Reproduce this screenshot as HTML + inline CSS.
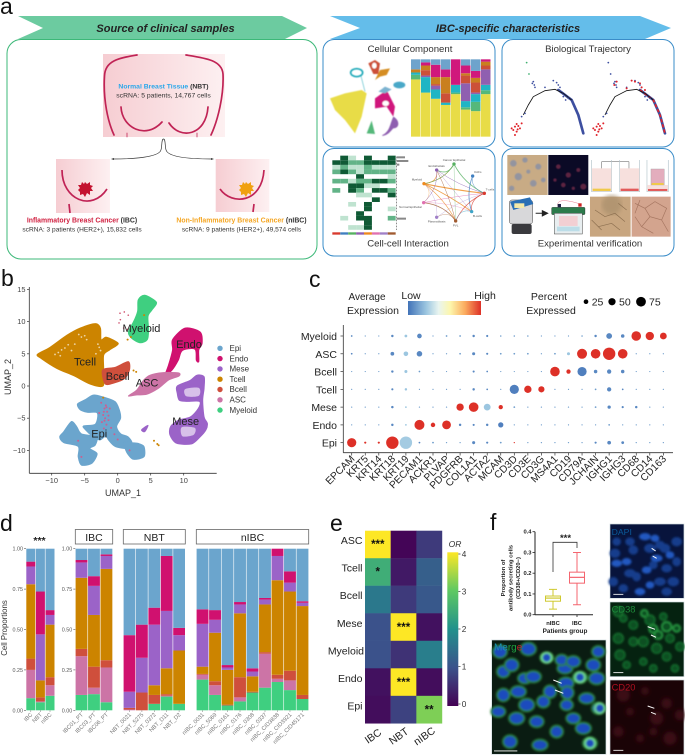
<!DOCTYPE html>
<html lang="en">
<head>
<meta charset="utf-8">
<title>IBC single-cell figure</title>
<style>
html,body{margin:0;padding:0;background:#fff;width:685px;height:755px;overflow:hidden}
svg{display:block;font-family:"Liberation Sans",sans-serif}
</style>
</head>
<body>
<svg id="fig" width="685" height="755" viewBox="0 0 685 755" xmlns="http://www.w3.org/2000/svg">
<defs>
<filter id="soft" x="-5%" y="-5%" width="110%" height="110%"><feGaussianBlur stdDeviation="1.2"/></filter>
<filter id="microblur" x="-5%" y="-5%" width="110%" height="110%"><feGaussianBlur stdDeviation="3"/></filter>
<filter id="cellblur" x="-5%" y="-5%" width="110%" height="110%"><feGaussianBlur stdDeviation="6"/></filter>
<linearGradient id="pink1" x1="0" y1="0" x2="1" y2="0"><stop offset="0" stop-color="#f6cdd2"/><stop offset="1" stop-color="#fdf0f1"/></linearGradient>
<linearGradient id="expr-grad" x1="0" y1="0" x2="1" y2="0">
<stop offset="0" stop-color="#4273b8"/><stop offset=".25" stop-color="#9cc6e0"/><stop offset=".42" stop-color="#e9f5f0"/><stop offset=".58" stop-color="#fdf6ac"/><stop offset=".78" stop-color="#fbac5f"/><stop offset="1" stop-color="#dd3027"/>
</linearGradient>
<linearGradient id="vir-grad" x1="0" y1="1" x2="0" y2="0">
<stop offset="0" stop-color="#440154"/><stop offset=".25" stop-color="#3b528b"/><stop offset=".5" stop-color="#21918c"/><stop offset=".75" stop-color="#5ec962"/><stop offset="1" stop-color="#fde725"/>
</linearGradient>
</defs>

<g id="panel-letters" font-size="23" fill="#111">
<text x="0" y="14">a</text>
<text x="1" y="286">b</text>
<text x="309" y="287">c</text>
<text x="0" y="531">d</text>
<text x="330" y="531">e</text>
<text x="490" y="530">f</text>
</g>

<!-- PANEL A LEFT -->
<g id="panel-a-left">
<polygon points="18,16 282,16 307,28 285,39 18,39 43,28" fill="#6ccba0"/>
<text x="165.5" y="32" text-anchor="middle" font-size="11" font-weight="bold" font-style="italic" fill="#222">Source of clinical samples</text>
<rect x="7" y="39.5" width="310" height="219.5" rx="14" fill="#fff" stroke="#3cb878" stroke-width="1"/>
<rect x="103" y="54" width="122" height="83" fill="url(#pink1)"/>
<g fill="none" stroke="#c02355" stroke-width="1.7" stroke-linecap="round">
<path d="M137,55 C120,58 105,60 104.5,76 C103,100 108,122 114,135"/>
<path d="M186,55 C205,58 222,60 223,74 C224,95 218,120 211,135"/>
<path d="M121,107 C122,128 146,140 162,122"/>
<path d="M169,123 C180,140 206,136 208,107"/>
<path d="M127,133 V137 M197,133 V137" stroke-width="0.8"/>
</g>
<text x="163.5" y="88.5" text-anchor="middle" font-size="6.8" font-weight="bold"><tspan fill="#29a7ea">Normal Breast Tissue</tspan><tspan fill="#333"> (NBT)</tspan></text>
<text x="163.5" y="97.5" text-anchor="middle" font-size="6.8" fill="#333">scRNA: 5 patients, 14,767 cells</text>
<path d="M113,159 C135,159 157,157 160.5,151 C162.5,148 161,139 163.5,139 C166,139 164.5,148 166.5,151 C170,157 190,159 212,159" fill="none" stroke="#333" stroke-width="0.7"/>
<rect x="56" y="159" width="54" height="54" fill="url(#pink1)"/>
<path d="M62,170 C62,200 92,212 107,189 M69,204 L70,213" fill="none" stroke="#c02355" stroke-width="1.7"/>
<polygon points="85,182 87,184 90,182 90,185 93,186 91,188 93,191 90,191 90,195 87,193 85,197 83,194 80,195 80,192 78,190 80,188 78,185 81,185 82,182 84,184" fill="#c4122f"/>
<rect x="215.7" y="159" width="53.6" height="53" fill="url(#pink1)"/>
<path d="M220,189 C232,206 262,203 264,170 M254,204 L253,212" fill="none" stroke="#c02355" stroke-width="1.7"/>
<polygon points="246,182 248,184 251,182 251,185 254,186 252,188 254,191 251,191 251,195 248,193 246,197 244,194 241,195 241,192 239,190 241,188 239,185 242,185 243,182 245,184" fill="#f0a010"/>
<path d="M111,159 L114,158 L114,160 Z M214,159 L211,158 L211,160 Z" fill="#333"/>
<text x="82" y="222.5" text-anchor="middle" font-size="6.9" font-weight="bold"><tspan fill="#d02040">Inflammatory Breast Cancer</tspan><tspan fill="#333"> (IBC)</tspan></text>
<text x="82" y="231.5" text-anchor="middle" font-size="6.6" fill="#333">scRNA: 3 patients (HER2+), 15,832 cells</text>
<text x="241.5" y="222.5" text-anchor="middle" font-size="6.9" font-weight="bold"><tspan fill="#f5a623">Non-Inflammatory Breast Cancer</tspan><tspan fill="#333"> (nIBC)</tspan></text>
<text x="241.5" y="231.5" text-anchor="middle" font-size="6.6" fill="#333">scRNA: 9 patients (HER2+), 49,574 cells</text>
</g>

<!-- PANEL A RIGHT -->
<g id="panel-a-right">
<polygon points="330,16 640,16 671,28 645,39 330,39 360,28" fill="#64bdea"/>
<text x="508" y="32" text-anchor="middle" font-size="11" font-weight="bold" font-style="italic" fill="#222">IBC-specific characteristics</text>
<rect x="323" y="39.5" width="172" height="107.5" rx="11" fill="#fff" stroke="#3a8cc8"/>
<rect x="502" y="39.5" width="172" height="107.5" rx="11" fill="#fff" stroke="#3a8cc8"/>
<rect x="323" y="148.5" width="172" height="107.5" rx="11" fill="#fff" stroke="#3a8cc8"/>
<rect x="502" y="148.5" width="172" height="107.5" rx="11" fill="#fff" stroke="#3a8cc8"/>
<text x="410" y="52" text-anchor="middle" font-size="9.6" fill="#333">Cellular Component</text>
<text x="588" y="52" text-anchor="middle" font-size="9.6" fill="#333">Biological Trajectory</text>
<text x="408" y="246.5" text-anchor="middle" font-size="9.6" fill="#333">Cell-cell Interaction</text>
<text x="590" y="246.5" text-anchor="middle" font-size="9.6" fill="#333">Experimental verification</text>

<g transform="translate(325,0) scale(0.3333)">
<g filter="url(#soft)">
<polygon points="15,295 60,280 110,270 125,280 110,350 90,400 60,360 30,330" fill="#e8dc47"/>
<ellipse cx="95" cy="218" rx="18" ry="12" fill="none" stroke="#1fa8b8" stroke-width="5"/>
<path d="M108,228 L120,275" stroke="#1fa8b8" stroke-width="1.5" fill="none"/>
<polygon points="130,190 150,180 165,190 160,222 145,222" fill="#cc5038"/>
<ellipse cx="148" cy="197" rx="7" ry="9" fill="#fff"/>
<polygon points="150,240 165,210 195,205 185,225 165,230" fill="#d58d20"/>
<ellipse cx="223" cy="255" rx="18" ry="10" fill="#4aa8c8"/>
<polygon points="150,295 185,270 210,320 205,350 185,320 150,325" fill="#d0187c"/>
<ellipse cx="182" cy="310" rx="10" ry="8" fill="#fff"/>
<polygon points="160,275 180,260 200,268 180,280" fill="#7db3d0"/>
<polygon points="125,400 140,362 150,402" fill="#55b87a"/>
<path d="M172,405 C195,395 195,370 205,350 C225,360 225,385 205,385 C195,395 190,405 172,408 Z" fill="#8f5fb0"/>
</g>
<g id="mini-bars"></g>
<g id="mini-traj"></g>
<g id="mini-heat"></g>
<g id="mini-net"></g>
<g>
<rect x="547" y="465" width="121" height="120" fill="#c8ab85"/>
<g fill="#7e8bab" opacity=".7" filter="url(#soft)">
<circle cx="565" cy="490" r="10"/><circle cx="600" cy="480" r="8"/><circle cx="640" cy="500" r="9"/><circle cx="580" cy="530" r="11"/><circle cx="625" cy="550" r="10"/><circle cx="655" cy="540" r="7"/><circle cx="560" cy="565" r="8"/><circle cx="610" cy="515" r="6"/>
</g>
<rect x="670" y="465" width="120" height="120" fill="#0b0a26"/>
<g fill="#8a3050" opacity=".65" filter="url(#soft)">
<circle cx="700" cy="500" r="7"/><circle cx="730" cy="525" r="8"/><circle cx="760" cy="510" r="6"/><circle cx="715" cy="555" r="7"/><circle cx="775" cy="560" r="9"/><circle cx="690" cy="540" r="5"/><circle cx="745" cy="565" r="5"/>
</g>
<rect x="795" y="590" width="122" height="120" fill="#c8a680"/>
<circle cx="860" cy="615" r="30" fill="#a98f6c" opacity=".7" filter="url(#cellblur)"/>
<path d="M810,630 L840,650 L870,640 L900,665 M820,680 L860,670 L885,690 M800,660 L830,690 M880,610 L905,630" stroke="#8d7050" stroke-width="2" fill="none"/>
<rect x="920" y="590" width="117" height="120" fill="#d3a48e"/>
<path d="M930,610 L960,625 L990,605 L1025,625 L1010,660 L975,650 L950,680 L985,700 M960,625 L975,650 M1010,660 L1030,695 M930,650 L950,680 M945,600 L930,640" stroke="#a57560" stroke-width="2" fill="none"/>
<g>
<path d="M830,548 V485 H912 V525 M912,525 l-3,-6 h6 z" stroke="#555" stroke-width="1.5" fill="none"/>
<path d="M800,480 V575 H860 V480 M884,480 V575 H944 V480 M966,480 V575 H1030 V480" stroke="#b5c5cc" stroke-width="2" fill="none"/>
<rect x="801" y="505" width="58" height="69" fill="#f7e0dd"/><rect x="885" y="505" width="58" height="69" fill="#f7e0dd"/><rect x="967" y="555" width="62" height="19" fill="#f7e0dd"/>
<rect x="978" y="507" width="40" height="48" fill="#e3adbd" stroke="#999"/>
<rect x="803" y="566" width="54" height="7" fill="#f0c94a"/><rect x="887" y="566" width="54" height="7" fill="#e25a5a"/><rect x="969" y="567" width="58" height="6" fill="#e25a5a"/><rect x="980" y="549" width="36" height="6" fill="#f0c94a"/>
</g>
<g>
<rect x="553" y="600" width="70" height="72" rx="8" fill="#d8d8da" stroke="#444" stroke-width="1.5"/>
<polygon points="555,605 615,592 625,612 565,630" fill="#2a6fb5"/>
<rect x="568" y="610" width="30" height="14" fill="#f5e9a8"/>
<rect x="560" y="672" width="60" height="30" rx="6" fill="#3a3a3e"/>
<path d="M632,640 H660 M652,632 L668,640 L652,648 Z" stroke="#222" stroke-width="3" fill="#222"/>
<rect x="680" y="622" width="100" height="22" rx="3" fill="#2b7a4b" stroke="#111"/>
<rect x="688" y="640" width="84" height="62" fill="#e8eef0" stroke="#444" stroke-width="1.5"/>
<rect x="702" y="648" width="56" height="30" fill="#f2cfd3"/>
<rect x="696" y="680" width="68" height="14" fill="#bcdde8"/>
<path d="M700,620 C690,595 730,600 765,612" stroke="#d35" fill="none"/>
<rect x="698" y="612" width="10" height="10" fill="#224"/><rect x="760" y="610" width="10" height="10" fill="#c22"/>
</g>
</g>
</g>
</g>

<!-- PANEL B -->
<g id="umap"></g>
<!-- PANEL C -->
<g id="dotplot">
<text x="367" y="300" text-anchor="middle" font-size="10" fill="#222">Average</text>
<text x="373" y="314" text-anchor="middle" font-size="10.5" fill="#222">Expression</text>
<text x="411" y="299" text-anchor="middle" font-size="10.5" fill="#222">Low</text>
<text x="485" y="299" text-anchor="middle" font-size="10.5" fill="#222">High</text>
<rect x="408" y="301" width="73" height="14" fill="url(#expr-grad)"/>
<text x="549" y="300" text-anchor="middle" font-size="10.5" fill="#222">Percent</text>
<text x="551" y="314" text-anchor="middle" font-size="10.5" fill="#222">Expressed</text>
</g>
<!-- PANEL D -->
<g id="props">
<text transform="translate(7,628) rotate(-90)" text-anchor="middle" font-size="7.8" fill="#333">Cell Proportions</text>
<text x="39.5" y="544" text-anchor="middle" font-size="10.5" font-weight="bold" fill="#222">***</text>
</g>
<!-- PANEL E -->
<g id="oddsmap">
<text x="455" y="547" text-anchor="middle" font-size="8.5" font-style="italic" fill="#333">OR</text>
<rect x="447.3" y="552.3" width="11" height="153.7" fill="url(#vir-grad)"/>
</g>
<!-- PANEL F -->
<g id="boxes" font-weight="bold">
<text transform="translate(505,578) rotate(-90)" text-anchor="middle" font-size="5.8" fill="#222">Proportion of</text>
<text transform="translate(512.5,578) rotate(-90)" text-anchor="middle" font-size="5.8" fill="#222">antibody secreting cells</text>
<text transform="translate(520,578) rotate(-90)" text-anchor="middle" font-size="5.8" fill="#222">(CD38+/CD20−)</text>
<text x="565" y="633" text-anchor="middle" font-size="6.4" fill="#222">Patients group</text>
<text x="565.5" y="541" text-anchor="middle" font-size="9.5" fill="#222">***</text>
</g>
<g id="micro"></g>
</svg>

<script>
/* ---------- panel b data (UMAP coordinates) ---------- */
const umapXTicks = [-10, -5, 0, 5, 10];
const umapYTicks = [-10, -5, 0, 5, 10, 15];
const clusterNames = ['Epi', 'Endo', 'Mese', 'Tcell', 'Bcell', 'ASC', 'Myeloid'];
const clusterColors = ['#6ba5cd', '#d0116f', '#9b63c8', '#cc8400', '#cf4f3c', '#cc74a6', '#3fcf80'];
const tcellOutline = [[-12.2,4.9],[-10.3,6],[-7.7,7.9],[-5.7,9],[-3.4,9.7],[-2.6,9],[-2.5,7.2],[-1.7,7.6],[0.1,6.6],[-1.2,5.6],[-2.1,4.8],[-2.1,2.5],[-2.2,0],[-4.2,0.3],[-6.7,1.6],[-9.2,2.7],[-11.5,4.2]];
const bcellOutline = [[-2.3,2.5],[-0.4,2.9],[1.6,3.8],[1.8,2.5],[1.1,1.2],[-0.4,0.5],[-1.9,0.3]];
const ascOutline = [[1.6,-1.55],[2.9,-0.6],[3.9,0.9],[4.9,1.7],[6.9,2.1],[9.2,2.05],[9.3,1.55],[7.7,0.9],[6.2,-0.35],[4.4,-1.3],[2.9,-1.4]];
const endoOutline = [[8.3,7.2],[10.2,9],[12.5,8.4],[12.8,6.6],[12.3,5.6],[12.3,3.8],[11.9,4],[11.7,5.7],[9.8,5.5],[9.2,4],[8.2,2.4],[7.2,1.7],[7.7,3.3],[8.3,5.6]];
const meseOutline = [[9,0],[11,0.9],[12,1.7],[13.1,1.45],[13.1,-0.35],[12.9,-2.2],[13.1,-4.8],[13.6,-5.8],[13.4,-6.8],[12.5,-7.9],[11.2,-9],[8.9,-8.9],[7.9,-7.6],[8,-6.3],[9.2,-5.3],[11,-4.8],[12.2,-3.5],[12.4,-2.4],[10.4,-2.4],[9.3,-2.2],[9,-1.1]];
const myeloidOutline = [[3.1,13.4],[4.1,14.1],[5.9,13],[5.2,11.8],[4.6,10.8],[4.7,8.7],[4.5,7.2],[3.4,6.7],[2.1,7.4],[1.6,8.4],[2.4,10],[3,11.6]];
const epiUpper = [[-6.1,-2.8],[-4.9,-2.1],[-3.7,-1.4],[-2.2,-1.7],[-0.4,-2.4],[0.25,-3.7],[0.45,-5],[-0.15,-6.3],[0.45,-7.4],[1.6,-7.9],[2.2,-8.9],[1.4,-9.7],[-0.4,-9.4],[-1.4,-8.4],[-1.8,-7.8],[-2.7,-8.4],[-3.7,-7.9],[-4.9,-6.8],[-5.2,-6.2],[-3.4,-5.9],[-3.1,-4.2],[-4.6,-4.1],[-5.7,-3.7]];
const epiLeft = [[-8.8,-7.9],[-8.2,-7.1],[-7,-5.5],[-6.2,-6.3],[-5.5,-7.4],[-3.2,-7.9],[-3.4,-9.2],[-4.2,-9.7],[-3.1,-10.5],[-3.9,-12],[-5.5,-12.3],[-6,-11],[-6,-9.4],[-8.2,-8.8]];
const epiRight = [[0.9,-8.7],[2.1,-8.8],[3.1,-8.9],[4,-9.4],[4,-11],[2.4,-11.4],[1.6,-10.7],[1.1,-9.7]];
const epiSmall = [[3.6,-6.8],[4.6,-6.1],[4.1,-7.1]];
const meseHoles = [[[9.7,-6.4],[11.7,-6.5],[11.5,-7.6],[9.8,-7.8]],[[10.2,-0.5],[12.3,-0.3],[12.3,-1.5],[10.4,-1.6]]];
const tcellSpeckles = [[-9,5.2],[-8.5,5.6],[-8,5.9],[-9.5,4.9],[-8.7,4.7],[-7.5,6.4],[-5.5,7.6],[-5,7.8],[-4.7,7.2],[-5.9,8],[-3,6.5],[-2.8,6],[-2.6,5.5],[-3.3,5],[-6.5,6.5],[-7,5.5]];
const ascInEpi = [[-1.8,-3],[-2,-3.5],[-1.6,-4],[-2.2,-4.5],[-1.9,-5],[-1.4,-5.3],[-2.4,-5.6],[-1.7,-6],[-1,-6.5],[-0.5,-7.5],[0,-8.3],[-2.8,-4.2],[-1.2,-3.5],[-2.1,-6.6],[-6,-8.5],[1.8,-10],[-5.5,-11],[-2.5,-2.6],[-1.7,-3.3],[-2.1,-4],[-1.4,-4.6],[-2,-5.4]];
const tcellStray = [[2.4,2.4],[2.8,2.2],[5.5,-8.5],[6,-9],[6.2,-9.2],[1.5,7.2],[2,7.6],[4,11],[-2.2,-1.8]];
const endoStray = [[0.35,11.3],[1,11.5],[1.6,11],[0.4,10.3],[0.2,9.8],[0.9,9],[1.5,8.8]];
const umapLabels = ['Epi', 'Endo', 'Mese', 'Tcell', 'Bcell', 'ASC', 'Myeloid'];
const umapLabelX = [-2.8, 10.8, 10.3, -4.95, 0, 4.45, 3.6];
const umapLabelY = [-7.4, 6.5, -5.5, 3.8, 1.55, 0.5, 9];

/* ---------- panel c data ---------- */
const genes = ['EPCAM','KRT5','KRT14','KRT18','KRT19','PECAM1','ACKR1','PLVAP','PDGFRB','COL1A1','ACTA2','MCAM','CD3D','CD3E','CD3G','MS4A1','CD19','CD79A','JCHAIN','IGHG1','IGHG3','CD68','CD14','CD163'];
const dotRows = ['Myeloid','ASC','Bcell','Tcell','Mese','Endo','Epi'];
const pctMyeloid = [2,1,1,4,5,14,1,2,2,4,3,1.5,1.5,1.5,1,1,1,1.5,4,22,8,60,45,30];
const pctAsc = [2,1,1,9,14,20,1,1,2,6,3,2,2,2,1,2,6,65,60,100,60,1,1,1];
const pctBcell = [1,1,1,4,6,2,1,1,1,3,2,1,1,1,1,60,12,55,8,12,8,1,1,1];
const pctTcell = [1,1,1,3,4,1,1,1,1,4,2,1,55,35,25,1,1,1,2,12,2,1,1,1];
const pctMese = [1,1,1,4,2,1,1,1,35,60,30,12,2,1,1,1,1,1,2,7,3,4,1,1];
const pctEndo = [1,1,1,4,2,65,13,50,4,3,4,18,1,1,1,1,1,1,1,2,1,1,1,1];
const pctEpi = [55,3,3,100,100,2,2,1,1,6,3,2,1,1,1,1,1,1,3,9,5,1,1,1];
const exprMyeloid = [.05,.1,.1,.05,.2,.05,.1,.1,.1,.05,.05,.1,.1,.1,.1,.1,.1,.1,.05,.05,.05,1,1,1];
const exprAsc = [.05,.1,.1,.05,.2,.05,.1,.1,.1,.05,.05,.1,.1,.1,.1,.1,.2,1,1,1,1,.1,.1,.1];
const exprBcell = [.1,.1,.1,.05,.2,.1,.1,.1,.1,.05,.05,.1,.1,.1,.1,1,1,.03,.05,.05,.05,.1,.1,.1];
const exprTcell = [.1,.1,.1,.05,.2,.1,.1,.1,.1,.05,.05,.1,.03,1,1,.1,.1,.1,.1,.05,.05,.1,.1,.1];
const exprMese = [.1,.1,.1,.05,.2,.1,.1,.1,1,1,.2,1,.1,.1,.1,.1,.1,.1,.1,.05,.05,.05,.1,.1];
const exprEndo = [.1,.1,.1,.05,.2,1,1,1,.05,.05,.05,.03,.1,.1,.1,.1,.1,.1,.1,.1,.1,.1,.1,.1];
const exprEpi = [1,1,1,1,.22,.05,.1,.1,.1,.05,.05,.1,1,.1,.1,.1,.1,.1,.05,.05,.05,.1,.1,.1];
const pctMatrix = [pctMyeloid, pctAsc, pctBcell, pctTcell, pctMese, pctEndo, pctEpi];
const exprMatrix = [exprMyeloid, exprAsc, exprBcell, exprTcell, exprMese, exprEndo, exprEpi];
const sizeLegendPct = [14, 34, 62];
const sizeLegendText = ['25', '50', '75'];

/* ---------- panel d data: order Myeloid, ASC, Bcell, Tcell, Mese, Endo, Epi ---------- */
const stackColors = ['#3fcf80', '#cc74a6', '#cf4f3c', '#cc8400', '#9b63c8', '#d0116f', '#6ba5cd'];
const yPropTicks = [0, 0.25, 0.5, 0.75, 1];
const groupLabels = ['IBC', 'NBT', 'nIBC'];
const groupValues = [
  [.075,.175,.07,.46,.11,.03,.08],
  [.05,.005,.025,.105,.285,.265,.265],
  [.09,.065,.05,.325,.06,.03,.38]
];
const ibcLabels = ['IBC01_PT', 'IBC03_PT', 'IBC06_PT'];
const ibcValues = [
  [.095,.24,.045,.44,.095,.015,.07],
  [.10,.04,.13,.32,.18,.06,.17],
  [.05,.215,.045,.565,.08,.01,.035]
];
const nbtLabels = ['NBT_0021', 'NBT_5275', 'NBT_0372', 'NBT_D11', 'NBT_D2'];
const nbtValues = [
  [0,.005,.01,0,.10,.35,.535],
  [0,0,.11,0,.215,.205,.47],
  [.04,0,.055,.06,.375,.105,.365],
  [.085,.005,.01,.16,.355,.34,.045],
  [.04,0,0,.33,.095,.045,.49]
];
const nibcLabels = ['nIBC_0031','nIBC_5069','nIBC_0161','nIBC_0176','nIBC_0308','nIBC_0337','nIBC_CID3838','nIBC_CID3921','nIBC_CID45171'];
const nibcValues = [
  [.19,.03,.005,.045,.265,.09,.375],
  [.095,.06,.025,.30,.08,.06,.38],
  [.03,0,.005,.215,.015,.015,.72],
  [.055,.025,.125,.395,.055,.015,.33],
  [.11,0,.005,.095,.03,.02,.74],
  [.14,.21,.01,.295,.03,.01,.305],
  [.175,.02,.025,.585,.15,.045,0],
  [.125,.06,.06,.49,.055,.07,.14],
  [.07,0,.025,.55,.02,.01,.325]
];
const stripTitles = ['IBC', 'NBT', 'nIBC'];

/* ---------- panel e data ---------- */
const orRows = ['ASC','Tcell','Bcell','Mese','Myeloid','Endo','Epi'];
const orCols = ['IBC','NBT','nIBC'];
const orValues = [
  [4,0.05,0.7],
  [2.5,0.3,1.2],
  [1.6,0.7,1.1],
  [1.0,4,0.2],
  [1.0,0.6,1.7],
  [0.2,4,0.15],
  [0.15,0.8,3.2]
];
const orStars = [
  ['***','',''],
  ['*','',''],
  ['','',''],
  ['','***',''],
  ['','',''],
  ['','***',''],
  ['','','**']
];
const orTicks = [0,1,2,3,4];

/* ---------- panel f data ---------- */
const boxGroups = ['nIBC','IBC'];
const boxMin = [.027,.048];
const boxQ1 = [.065,.152];
const boxMedian = [.08,.18];
const boxQ3 = [.09,.205];
const boxMax = [.122,.30];
const boxColors = ['#cfc92f','#f4656f'];
const boxTicks = [0,.1,.2,.3,.4];

/* ---------- mini illustration data ---------- */
const miniColors = ['#e8dc47','#55b87a','#1fb5c4','#8f5fb0','#cc5038','#c97f1f','#d0187c','#6ea3cc'];
const miniStacks = [
  [.74,.06,.03,0,0,.04,0,.13],
  [.57,0,.2,.02,.07,.06,.04,.04],
  [.49,0,.12,.05,.02,.09,.16,.07],
  [.41,.0,.03,0,.12,.21,.1,.13],
  [.55,.02,.1,0,0,0,.33,0],
  [.35,.03,.08,.23,.1,.03,.1,.08],
  [.33,.12,.1,.02,.13,.06,.09,.15],
  [.55,.05,.07,.2,.05,.05,.03,0]
];
const trajCurve = [[595,345],[610,315],[625,290],[660,272],[690,268],[715,280],[740,300]];
const trajDense = [[700,270],[740,300],[760,345],[775,400]];
const trajBlue = [[625,245],[628,255],[630,262],[622,250],[660,262],[685,242],[695,248],[700,255],[705,262],[715,290],[722,300],[730,295],[600,340],[590,350],[612,222],[605,188]];
const trajRed = [[575,372],[570,380],[580,378],[565,390],[575,395],[585,385],[570,405],[560,385],[590,370],[578,388]];
const trajRedSecond = [[920,242],[930,245],[945,250],[960,270],[875,245],[868,255],[950,262],[905,265]];
const heatShades = {d:'#0f5a35',m:'#62b387',l:'#bfe3d0'};
const heatCells = [
  [1,0,'d'],[2,0,'l'],[4,0,'d'],[7,0,'d'],
  [0,1,'d'],[1,1,'d'],[2,1,'m'],[3,1,'m'],[4,1,'d'],[5,1,'d'],[6,1,'d'],[7,1,'d'],
  [0,2,'l'],[1,2,'m'],[2,2,'l'],[3,2,'l'],[4,2,'m'],[5,2,'l'],[6,2,'l'],[7,2,'l'],
  [0,3,'m'],[1,3,'d'],[2,3,'m'],[3,3,'l'],[4,3,'m'],[5,3,'m'],[6,3,'m'],[7,3,'m'],
  [3,4,'d'],[7,4,'l'],
  [0,5,'m'],[1,5,'m'],[2,5,'l'],[3,5,'m'],[4,5,'m'],[5,5,'d'],[6,5,'d'],[7,5,'m'],
  [2,6,'d'],[3,6,'d'],[4,6,'l'],[5,6,'l'],
  [2,7,'d'],[3,7,'m'],
  [0,7,'m'],[5,7,'d'],[6,7,'d'],[7,7,'m'],
  [3,8,'l'],[4,8,'l'],[7,8,'d'],
  [5,9,'d'],
  [2,10,'l'],[4,10,'d'],
  [4,11,'d'],[7,11,'l'],
  [3,12,'d'],
  [3,13,'d'],
  [1,13,'l'],[4,13,'d'],[7,13,'m'],
  [4,14,'d'],
  [2,15,'l'],[3,15,'l'],[4,15,'d']
];
const stripCols = ['#d83a2e','#3f7fc0','#55b060','#8f5fb0','#ee8a1e','#e070b0','#a080c8','#a05a30'];
const netNodes = ['Endothelials','Cancer Epithelial','CAFs','T-cells','B-cells','PVL','Plasmablasts','Normal Epithelial','Myeloid'];
const netX = [335,387,443,478,440,392,335,296,297];
const netY = [510,492,528,580,635,663,652,608,551];
const netCol = ['#8a5fb0','#55b060','#3f7fc0','#d83a2e','#3da5c8','#a05a30','#a080c8','#e070b0','#ee8a1e'];
const netEdges = [[8,3,3.5],[8,0,2],[8,1,2],[8,4,2.5],[8,5,2],[8,7,1],[1,0,2.5],[1,3,2.5],[1,5,1],[1,8,2],[0,3,1.5],[0,7,1.5],[0,4,1],[2,3,1.5],[2,4,2.5],[3,4,2],[3,5,2],[4,5,1.5],[5,7,2.5],[5,6,1],[7,3,1.5],[7,4,1],[6,3,1],[6,8,1],[5,0,1.5]];

/* ---------- microscopy decorative cell positions (in 3x crop coordinates) ---------- */
const dapiCells = [[495,100],[510,120],[525,130],[500,160],[490,180],[430,135],[380,175],[420,205],[440,215],[470,195],[530,190],[550,230],[480,240],[400,250],[560,110],[465,95],[380,110],[370,230],[450,260],[510,230],[560,170],[410,170],[530,260],[480,130],[540,150],[420,110],[375,145]];
const cd38Cells = [[463,325],[490,372],[530,365],[560,370],[505,390],[480,345],[400,340],[430,410],[500,430],[555,490],[570,425],[390,450],[460,470],[530,455],[385,400],[520,335],[430,360],[460,410],[410,480],[540,400],[385,320],[490,490]];
const cd20Cells = [[465,558],[530,595],[500,640],[420,620],[385,680],[540,700],[450,700],[570,630],[400,570],[490,680]];
const mergeCells = [[170,458],[270,517],[228,535],[232,563],[105,520],[130,515],[40,500],[65,480],[225,490],[330,610],[300,715],[110,600],[230,600],[140,650],[80,640],[40,570],[25,620],[280,670],[200,680],[60,710],[150,720],[330,440],[310,480],[115,432],[215,465],[250,470],[320,520],[180,560],[250,640],[85,560],[160,590],[30,440],[290,580]];
const mergeRings = [[170,458],[270,517],[330,610],[300,715]];

/* ---------- helpers ---------- */
const NS = 'http://www.w3.org/2000/svg';
function add(parent, tag, attrs, text) {
  const n = document.createElementNS(NS, tag);
  for (const k in attrs) n.setAttribute(k, attrs[k]);
  if (text !== undefined) n.textContent = text;
  parent.appendChild(n);
  return n;
}
function hex(c){return [parseInt(c.slice(1,3),16),parseInt(c.slice(3,5),16),parseInt(c.slice(5,7),16)];}
function ramp(stops,t){
  t=Math.max(0,Math.min(1,t));
  const s=t*(stops.length-1),i=Math.min(Math.floor(s),stops.length-2),f=s-i;
  const a=hex(stops[i]),b=hex(stops[i+1]);
  return 'rgb('+a.map((v,k)=>Math.round(v+(b[k]-v)*f)).join(',')+')';
}
function smoothClosed(P){
  const n=P.length;
  let d='M'+P[0][0].toFixed(1)+','+P[0][1].toFixed(1);
  for(let i=0;i<n;i++){
    const p0=P[(i-1+n)%n],p1=P[i],p2=P[(i+1)%n],p3=P[(i+2)%n];
    const c1x=p1[0]+(p2[0]-p0[0])/7,c1y=p1[1]+(p2[1]-p0[1])/7;
    const c2x=p2[0]-(p3[0]-p1[0])/7,c2y=p2[1]-(p3[1]-p1[1])/7;
    d+=' C'+c1x.toFixed(1)+','+c1y.toFixed(1)+' '+c2x.toFixed(1)+','+c2y.toFixed(1)+' '+p2[0].toFixed(1)+','+p2[1].toFixed(1);
  }
  return d+'Z';
}
const fig = document.getElementById('fig');

/* ---------- draw mini bars ---------- */
(function(){
  const g=document.getElementById('mini-bars');
  miniStacks.forEach((stack,i)=>{
    let acc=0;
    stack.forEach((v,k)=>{
      const h=v*232;
      const r=add(g,'rect',{x:258+i*30,y:410-acc-h,width:28.5,height:h,fill:miniColors[k]});
      
      
      acc+=h;
    });
  });
})();

/* ---------- draw mini trajectories ---------- */
(function(){
  const g=document.getElementById('mini-traj');
  [0,245].forEach((dx,pi)=>{
    const pts=a=>a.map(p=>(p[0]+dx)+','+p[1]).join(' ');
    const dense=add(g,'polyline',{points:pts(trajDense),fill:'none',stroke:'#3d4fa0','stroke-width':8,'stroke-linecap':'round'});
    
    
    if(pi===1){
      const rd=add(g,'polyline',{points:pts(trajDense),fill:'none',stroke:'#e0222a','stroke-width':5,'stroke-dasharray':'10 6'});
      
      
    }
    const c=add(g,'polyline',{points:pts(trajCurve),fill:'none',stroke:'#111','stroke-width':2.5});
    
    
    trajBlue.forEach((p,i)=>{
      const d=add(g,'circle',{cx:p[0]+dx,cy:p[1],r:2.6,fill:(pi===0&&i>13)?'#40b070':'#3d4fa0'});
      
      
    });
    trajRed.forEach(p=>{
      const d=add(g,'circle',{cx:p[0]+dx,cy:p[1],r:3,fill:'#e0222a'});
      
      
    });
    if(pi===1){
      trajRedSecond.forEach(p=>{
        const d=add(g,'circle',{cx:p[0],cy:p[1],r:3,fill:'#e0222a'});
        
        
      });
    }
  });
})();

/* ---------- draw mini heatmap ---------- */
(function(){
  const g=document.getElementById('mini-heat');
  heatCells.forEach(c=>{
    const r=add(g,'rect',{x:22+c[0]*23.75,y:467+c[1]*13.9,width:23.75,height:13.9,fill:heatShades[c[2]]});
    
    
  });
  stripCols.forEach((c,i)=>{
    const r=add(g,'rect',{x:22+i*23.75,y:697,width:23.75,height:7,fill:c});
    
    
  });
  const side=add(g,'path',{d:'M215,470 V690',stroke:'#555','stroke-width':2,'stroke-dasharray':'5 4',fill:'none'});
  
  
  [[472,25],[483,35],[494,8],[656,28]].forEach(b=>{
    const r=add(g,'rect',{x:215,y:b[0]-3,width:b[1],height:6,fill:'#888'});
    
    
  });
})();

/* ---------- draw mini network ---------- */
(function(){
  const g=document.getElementById('mini-net');
  const cx=387,cy=578;
  netEdges.forEach(e=>{
    const a=e[0],b=e[1];
    const mx=(netX[a]+netX[b])/2,my=(netY[a]+netY[b])/2;
    const qx=mx+(cx-mx)*.35,qy=my+(cy-my)*.35;
    const p=add(g,'path',{d:'M'+netX[a]+','+netY[a]+' Q'+qx+','+qy+' '+netX[b]+','+netY[b],fill:'none',stroke:netCol[a],'stroke-width':e[2],opacity:.8});
    
    
  });
  netNodes.forEach((n,i)=>{
    const c=add(g,'circle',{cx:netX[i],cy:netY[i],r:5,fill:netCol[i]});
    
    
    const left=netX[i]<330, right=netX[i]>420;
    const t=add(g,'text',{x:netX[i]+(left?-6:right?4:0),y:netY[i]+(netY[i]>600?16:-9),'text-anchor':left?'end':right?'start':'middle','font-size':9,fill:'#555'},n);
    
    
  });
})();

/* ---------- panel b ---------- */
(function(){
  const g=document.getElementById('umap');
  const sx=v=>117.7+v*6.6, sy=v=>386-v*6.44;
  const toPx=a=>a.map(p=>[sx(p[0]),sy(p[1])]);
  const shapes=[[epiUpper,0],[epiLeft,0],[epiRight,0],[epiSmall,2],[endoOutline,1],[meseOutline,2],[tcellOutline,3],[bcellOutline,4],[ascOutline,5],[myeloidOutline,6]];
  shapes.forEach(s=>{
    const p=add(g,'path',{d:smoothClosed(toPx(s[0])),fill:clusterColors[s[1]],stroke:clusterColors[s[1]],'stroke-width':.8,'stroke-linejoin':'round'});
    
    
  });
  meseHoles.forEach(h=>{
    const p=add(g,'path',{d:smoothClosed(toPx(h)),fill:'#fff',opacity:.6});
    
    
  });
  tcellSpeckles.forEach(v=>{
    const c=add(g,'circle',{cx:sx(v[0]),cy:sy(v[1]),r:.9,fill:'#fff',opacity:.65});
    
    
  });
  ascInEpi.forEach(v=>{
    const c=add(g,'circle',{cx:sx(v[0]),cy:sy(v[1]),r:1,fill:'#cc5f90'});
    
    
  });
  tcellStray.forEach(v=>{
    const c=add(g,'circle',{cx:sx(v[0]),cy:sy(v[1]),r:1,fill:'#cc8400'});
    
    
  });
  endoStray.forEach(v=>{
    const c=add(g,'circle',{cx:sx(v[0]),cy:sy(v[1]),r:.8,fill:'#cf4f6c'});
    
    
  });
  const xa=add(g,'line',{x1:29.3,y1:473.3,x2:216.7,y2:473.3,stroke:'#333','stroke-width':.8});
  
  
  const ya=add(g,'line',{x1:29.3,y1:287,x2:29.3,y2:473.3,stroke:'#333','stroke-width':.8});
  
  
  umapXTicks.forEach(v=>{
    const t=add(g,'line',{x1:sx(v),x2:sx(v),y1:473.3,y2:475.5,stroke:'#333','stroke-width':.7});
    
    
    const l=add(g,'text',{x:sx(v),y:483,'text-anchor':'middle','font-size':7.4,fill:'#444'},String(v).replace('-','−'));
    
    
  });
  umapYTicks.forEach(v=>{
    const t=add(g,'line',{x1:27,x2:29.3,y1:sy(v),y2:sy(v),stroke:'#333','stroke-width':.7});
    
    
    const l=add(g,'text',{x:25.5,y:sy(v)+2.5,'text-anchor':'end','font-size':7.4,fill:'#444'},String(v).replace('-','−'));
    
    
  });
  const xt=add(g,'text',{x:123,y:496,'text-anchor':'middle','font-size':9,fill:'#333'},'UMAP_1');
  
  
  const yt=add(g,'text',{transform:'translate(11,377) rotate(-90)','text-anchor':'middle','font-size':9,fill:'#333'},'UMAP_2');
  
  
  umapLabels.forEach((s,i)=>{
    const t=add(g,'text',{x:sx(umapLabelX[i]),y:sy(umapLabelY[i])+3.8,'text-anchor':'middle','font-size':11,fill:'#222'},s);
    
    
  });
  clusterNames.forEach((s,i)=>{
    const c=add(g,'circle',{cx:220,cy:348.3+i*10.3,r:2.7,fill:clusterColors[i]});
    
    
    const t=add(g,'text',{x:229.5,y:351+i*10.3,'font-size':8,fill:'#333'},s);
    
    
  });
})();

/* ---------- panel c ---------- */
(function(){
  const g=document.getElementById('dotplot');
  const sx=i=>351.7+i*13.55, sy=i=>336+i*17.78;
  const rad=p=>Math.sqrt(p)*0.62;
  const stops=['#4273b8','#9cc6e0','#e9f5f0','#fdf6ac','#fbac5f','#dd3027'];
  const xa=add(g,'line',{x1:343.3,y1:452.7,x2:673,y2:452.7,stroke:'#333','stroke-width':.8});
  
  
  const ya=add(g,'line',{x1:343.3,y1:325,x2:343.3,y2:452.7,stroke:'#333','stroke-width':.8});
  
  
  dotRows.forEach((name,r)=>{
    const t=add(g,'line',{x1:340.5,x2:343.3,y1:sy(r),y2:sy(r),stroke:'#333','stroke-width':.7});
    
    
    const l=add(g,'text',{x:337,y:sy(r)+4,'text-anchor':'end','font-size':10.5,fill:'#222'},name);
    
    
    genes.forEach((gn,c)=>{
      const d=add(g,'circle',{cx:sx(c),cy:sy(r),r:rad(pctMatrix[r][c]),fill:ramp(stops,exprMatrix[r][c])});
      
      
    });
  });
  genes.forEach((gn,c)=>{
    const t=add(g,'line',{x1:sx(c),x2:sx(c),y1:452.7,y2:455.5,stroke:'#333','stroke-width':.7});
    
    
    const l=add(g,'text',{transform:'translate('+(sx(c)+3.5)+',459.5) rotate(-45)','text-anchor':'end','font-size':10.2,fill:'#222'},gn);
    
    
  });
  const lx=[586,612,641], tx=[591.7,619,649];
  sizeLegendPct.forEach((p,i)=>{
    const d=add(g,'circle',{cx:lx[i],cy:301.7,r:rad(p),fill:'#000'});
    
    
    const t=add(g,'text',{x:tx[i],y:305.5,'font-size':10.5,fill:'#222'},sizeLegendText[i]);
    
    
  });
})();

/* ---------- panel d ---------- */
(function(){
  const g=document.getElementById('props');
  const sy=v=>710.3-v*161.6;
  function facet(x0,step,labels,values,axisEnd){
    if(axisEnd!==null){
      yPropTicks.forEach(v=>{
        const l=add(g,'text',{x:axisEnd-3,y:sy(v)+2,'text-anchor':'end','font-size':5.4,fill:'#555'},v.toFixed(2));
        
        
        const t=add(g,'line',{x1:axisEnd-2,x2:axisEnd,y1:sy(v),y2:sy(v),stroke:'#555','stroke-width':.6});
        
        
      });
    }
    values.forEach((row,i)=>{
      let acc=0;
      const bx=x0+i*step;
      const total=row.reduce((a,b)=>a+b,0);
      row.forEach((v,k)=>{
        const p=v/total;
        const r=add(g,'rect',{x:bx+.3,y:sy(acc+p),width:step-.6,height:Math.max(0,sy(acc)-sy(acc+p)),fill:stackColors[k]});
        
        
        acc+=p;
      });
      const t=add(g,'line',{x1:bx+step/2,x2:bx+step/2,y1:710.3,y2:712,stroke:'#777','stroke-width':.5});
      
      
      const l=add(g,'text',{transform:'translate('+(bx+step/2+2)+',715) rotate(-45)','text-anchor':'end','font-size':5.7,fill:'#777'},labels[i]);
      
      
    });
  }
  facet(26,9.6,groupLabels,groupValues,26);
  facet(75.3,12.45,ibcLabels,ibcValues,75.3);
  facet(123.3,12.4,nbtLabels,nbtValues,null);
  facet(196.3,12.49,nibcLabels,nibcValues,null);
  const stripX=[75.3,123.3,196.3], stripW=[37.4,62,112.4];
  stripTitles.forEach((s,i)=>{
    const r=add(g,'rect',{x:stripX[i],y:529.5,width:stripW[i],height:14.5,fill:'#fff',stroke:'#666','stroke-width':.8});
    
    
    const t=add(g,'text',{x:stripX[i]+stripW[i]/2,y:540.8,'text-anchor':'middle','font-size':10.5,fill:'#222'},s);
    
    
  });
})();

/* ---------- panel e ---------- */
(function(){
  const g=document.getElementById('oddsmap');
  const vir=['#440154','#3b528b','#21918c','#5ec962','#fde725'];
  const sx=i=>365+i*25.67, sy=i=>530.7+i*27.52;
  const cb=v=>704-v*37.5;
  orRows.forEach((rn,r)=>{
    const l=add(g,'text',{x:rn==='Myeloid'?364:362.5,y:sy(r)+13.5,'text-anchor':'end','font-size':10.5,fill:'#222'},rn);
    
    
    orCols.forEach((cn,c)=>{
      const cell=add(g,'rect',{x:sx(c),y:sy(r),width:25.87,height:27.72,fill:ramp(vir,orValues[r][c]/4)});
      
      
      if(orStars[r][c]){
        const s=add(g,'text',{x:sx(c)+12.8,y:sy(r)+17.5,'text-anchor':'middle','font-size':11.5,'font-weight':'bold',fill:'#111'},orStars[r][c]);
        
        
      }
    });
  });
  orCols.forEach((cn,c)=>{
    const l=add(g,'text',{transform:'translate('+(sx(c)+10)+',739) rotate(-35)','text-anchor':'middle','font-size':10.5,fill:'#222'},cn);
    
    
  });
  orTicks.forEach(v=>{
    const t=add(g,'line',{x1:458.3,x2:460.5,y1:cb(v),y2:cb(v),stroke:'#333','stroke-width':.7});
    
    
    const l=add(g,'text',{x:461.7,y:cb(v)+3,'font-size':8.2,fill:'#333'},String(v));
    
    
  });
})();

/* ---------- panel f boxplot ---------- */
(function(){
  const g=document.getElementById('boxes');
  const sy=v=>614.7-v*207.5;
  const cx=[553,577];
  const xa=add(g,'line',{x1:535,x2:593,y1:614.7,y2:614.7,stroke:'#222','stroke-width':1});
  
  
  const ya=add(g,'line',{x1:535,x2:535,y1:sy(.4),y2:614.7,stroke:'#222','stroke-width':1});
  
  
  boxTicks.forEach(v=>{
    const t=add(g,'line',{x1:532.5,x2:535,y1:sy(v),y2:sy(v),stroke:'#222','stroke-width':.8});
    
    
    const l=add(g,'text',{x:531.5,y:sy(v)+2,'text-anchor':'end','font-size':5.8,fill:'#222'},v.toFixed(1));
    
    
  });
  boxGroups.forEach((name,i)=>{
    const col=boxColors[i], x=cx[i];
    const w=add(g,'path',{d:'M'+x+','+sy(boxMin[i])+' V'+sy(boxMax[i])+' M'+(x-4)+','+sy(boxMin[i])+' h8 M'+(x-4)+','+sy(boxMax[i])+' h8',stroke:col,'stroke-width':1,fill:'none'});
    
    
    const b=add(g,'rect',{x:x-7.5,y:sy(boxQ3[i]),width:15,height:sy(boxQ1[i])-sy(boxQ3[i]),fill:'#fff',stroke:col,'stroke-width':1});
    
    
    const m=add(g,'line',{x1:x-7.5,x2:x+7.5,y1:sy(boxMedian[i]),y2:sy(boxMedian[i]),stroke:col,'stroke-width':1.2});
    
    
    const t=add(g,'line',{x1:x,x2:x,y1:614.7,y2:617,stroke:'#222','stroke-width':.8});
    
    
    const l=add(g,'text',{x:x,y:625,'text-anchor':'middle','font-size':5.8,fill:'#222'},name);
    
    
  });
  const br=add(g,'path',{d:'M553,572 V542.3 H577 V548',fill:'none',stroke:'#333','stroke-width':.8});
  
  
})();

/* ---------- microscopy ---------- */
(function(){
  const g=add(document.getElementById('micro'),'g',{transform:'translate(490,505) scale(0.3333)'});
  
  
  function frame(x,y,w,h,bg,name){
    const r=add(g,'rect',{x:x,y:y,width:w,height:h,fill:bg,stroke:'#d0dce0','stroke-width':2});
    
    
    const clip=add(g,'g',{});
    
    
    return clip;
  }
  const dapi=frame(360,57,222,223,'#08143c','dapi-image');
  const dapiInner=add(dapi,'g',{filter:'url(#microblur)'});
  dapiCells.forEach((c,i)=>{
    const e=add(dapiInner,'ellipse',{cx:c[0],cy:c[1],rx:13+(i%4)*1.5,ry:11+(i%3)*1.5,fill:i%3===0?'#2058c0':'#173c8c'});
    
    
  });
  const cd38=frame(360,291,222,224,'#052210','cd38-image');
  const cd38Inner=add(cd38,'g',{filter:'url(#microblur)'});
  cd38Cells.forEach((c,i)=>{
    const e=add(cd38Inner,'circle',{cx:c[0],cy:c[1],r:11+(i%3)*2,fill:'#0f4f20',stroke:i<5?'#30b850':'#1a7a32','stroke-width':3.5});
    
    
  });
  const cd20=frame(360,525,222,223,'#1a0306','cd20-image');
  const cd20Inner=add(cd20,'g',{filter:'url(#cellblur)'});
  cd20Cells.forEach((c,i)=>{
    const e=add(cd20Inner,'circle',{cx:c[0],cy:c[1],r:12+(i%3)*4,fill:'#420a14',opacity:.85});
    
    
  });
  const merge=frame(5,405,343,343,'#0a1c12','merge-image');
  const mergeInner=add(merge,'g',{filter:'url(#microblur)'});
  mergeCells.forEach((c,i)=>{
    const ex=Math.min(c[0],325), ey=Math.max(c[1],425);
    const e=add(mergeInner,'ellipse',{cx:ex,cy:ey,rx:19+(i%3)*2,ry:16+(i%4),fill:'#1d4bbd',stroke:'#2a8238','stroke-width':6});
    
    
  });
  mergeRings.forEach(c=>{
    const e=add(mergeInner,'circle',{cx:c[0],cy:c[1],r:15,fill:'none',stroke:'#7ae890','stroke-width':5});
    
    
  });
  const labels=[['DAPI',365,90,'#0a5a9a',26],['CD38',365,323,'#1e8a3a',28],['CD20',365,557,'#b01020',28]];
  labels.forEach(a=>{
    const t=add(g,'text',{x:a[1],y:a[2],fill:a[3],'font-size':a[4]},a[0]);
    
    
  });
  const mergeLabel=add(g,'text',{x:12,y:436,'font-size':30},'');
  
  
  [['Me','#1a90b0'],['rg','#20a040'],['e','#c02030']].forEach(p=>{
    add(mergeLabel,'tspan',{fill:p[1]},p[0]);
  });
  [[10,600,748],[10,365,270],[10,365,505],[10,365,738]].forEach((b,i)=>{
    const len=[70,30,30,30][i], xx=i===0?12:b[1]+5, yy=i===0?738:b[2]-2;
    const s=add(g,'line',{x1:xx,x2:xx+len,y1:yy,y2:yy,stroke:'#fff','stroke-width':2.5});
    
    
  });
  [[190,525,215,535],[195,555,220,565],[485,130,497,138],[488,153,500,160],[473,365,495,373],[483,390,498,397],[473,603,493,610],[483,622,498,628]].forEach(a=>{
    const l=add(g,'line',{x1:a[0],y1:a[1],x2:a[2],y2:a[3],stroke:'#fff','stroke-width':3});
    
    
  });
})();
</script>
</body>
</html>
